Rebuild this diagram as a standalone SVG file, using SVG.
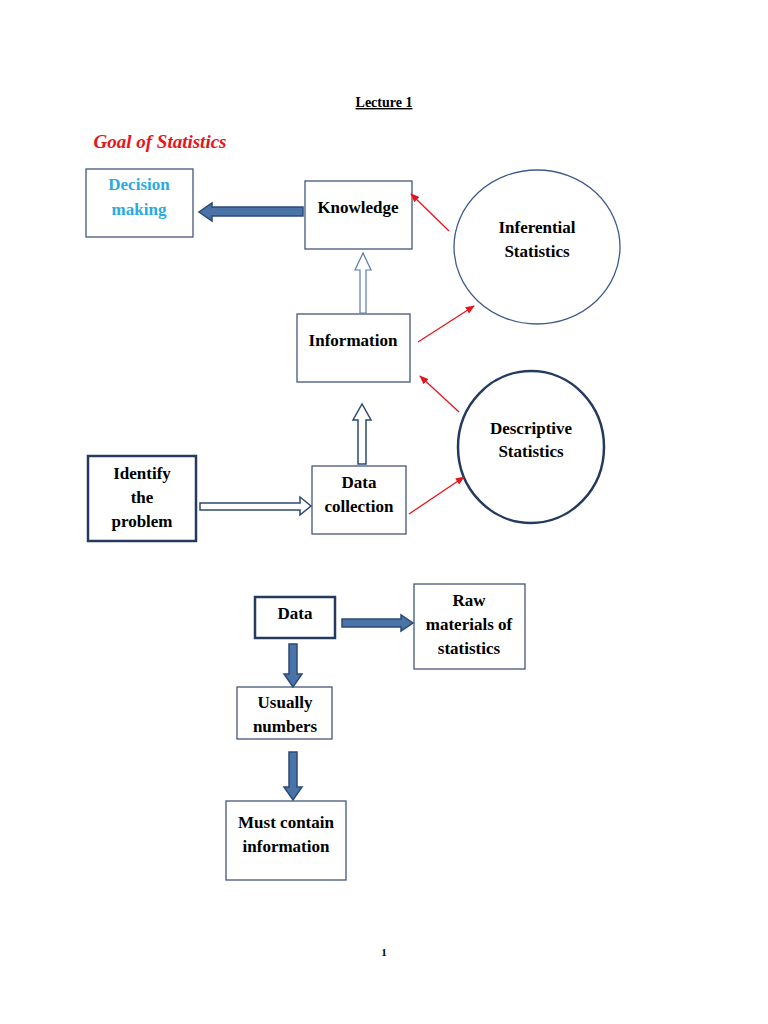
<svg xmlns="http://www.w3.org/2000/svg" width="768" height="1024" viewBox="0 0 768 1024">
<style>
text{font-family:"Liberation Serif",serif;font-weight:bold;font-size:17px;fill:#000;text-anchor:middle}
.b{fill:#fff;stroke:#44577a;stroke-width:1.3}
.bt{fill:#fff;stroke:#243a5e;stroke-width:2.5}
.c{fill:#fff;stroke:#3d5a8a;stroke-width:1.3}
.r{stroke:#e8141c;stroke-width:1.3;fill:none;marker-end:url(#ra)}
.fa{fill:#4a73a8;stroke:#2c4a75;stroke-width:1.5}
.ha{fill:#fff;stroke:#2c4a75;stroke-width:1.5}
.ha2{fill:#fff;stroke:#5a7ab0;stroke-width:1.2}
</style>
<defs><marker id="ra" viewBox="0 0 10 10" refX="9" refY="5" markerWidth="7" markerHeight="7" orient="auto"><path d="M0,1 L10,5 L0,9 z" fill="#e8141c"/></marker></defs>
<rect width="768" height="1024" fill="#fff"/>
<text x="384" y="107" style="font-size:14px;text-decoration:underline">Lecture 1</text>
<text x="160" y="148" style="font-size:19px;font-style:italic;fill:#e8141c">Goal of Statistics</text>
<g id="decision"><rect class="b" x="86" y="169" width="107" height="68"/><text x="139" y="190" style="fill:#29abe2">Decision</text><text x="139" y="215" style="fill:#29abe2">making</text></g>
<g id="knowledge"><rect class="b" x="305" y="181" width="107" height="68"/><text x="358" y="213">Knowledge</text></g>
<g id="inferential"><ellipse class="c" cx="537" cy="247" rx="83" ry="77"/><text x="537" y="233">Inferential</text><text x="537" y="257">Statistics</text></g>
<g id="information"><rect class="b" x="297" y="314" width="113" height="68"/><text x="353" y="346">Information</text></g>
<g id="descriptive"><ellipse cx="531" cy="447" rx="73" ry="76" fill="#fff" stroke="#243a5e" stroke-width="2.5"/><text x="531" y="434">Descriptive</text><text x="531" y="457">Statistics</text></g>
<g id="identify"><rect class="bt" x="88" y="456" width="108" height="85"/><text x="142" y="479">Identify</text><text x="142" y="503">the</text><text x="142" y="527">problem</text></g>
<g id="datacollection"><rect class="b" x="312" y="466" width="94" height="68"/><text x="359" y="488">Data</text><text x="359" y="512">collection</text></g>
<g id="data"><rect class="bt" x="255" y="597" width="80" height="41"/><text x="295" y="619">Data</text></g>
<g id="raw"><rect class="b" x="414" y="584" width="111" height="85"/><text x="469" y="606">Raw</text><text x="469" y="630">materials of</text><text x="469" y="654">statistics</text></g>
<g id="usually"><rect class="b" x="237" y="687" width="95" height="52"/><text x="285" y="708">Usually</text><text x="285" y="732">numbers</text></g>
<g id="must"><rect class="b" x="226" y="801" width="120" height="79"/><text x="286" y="828">Must contain</text><text x="286" y="852">information</text></g>
<text x="384" y="956" style="font-size:11px">1</text>
<g id="connectors">
<path class="fa" d="M303,207 L303,216 L212,216 L212,221 L199,212 L212,203 L212,207 Z"/>
<path class="ha2" d="M360,313 L360,270 L355,270 L363,253 L371,270 L366,270 L366,313 Z"/>
<path class="ha" d="M358,464 L358,420 L353,420 L362,404 L371,420 L366,420 L366,464 Z"/>
<path class="ha" d="M200,503 L200,510 L300,510 L300,515 L311,506 L300,497 L300,503 Z"/>
<path class="fa" d="M342,619 L342,627 L401,627 L401,631 L413,623 L401,615 L401,619 Z"/>
<path class="fa" d="M289,644 L297,644 L297,674 L302,674 L293,687 L284,674 L289,674 Z"/>
<path class="fa" d="M289,752 L297,752 L297,787 L302,787 L293,800 L284,787 L289,787 Z"/>
<line class="r" x1="449" y1="231" x2="411" y2="194"/>
<line class="r" x1="418" y1="342" x2="474" y2="306"/>
<line class="r" x1="459" y1="412" x2="420" y2="376"/>
<line class="r" x1="409" y1="514" x2="464" y2="477"/>
</g>
</svg>
